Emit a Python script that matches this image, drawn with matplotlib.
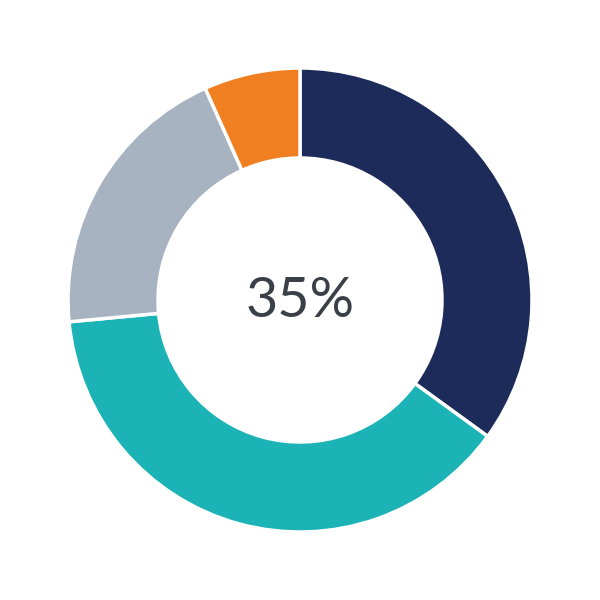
import matplotlib
matplotlib.use("Agg")
import matplotlib.pyplot as plt

labels = ["A", "B", "C", "D"]
values = [35, 38.5, 19.8, 6.7]
colors = ["#1c2b5a", "#1bb3b6", "#a8b3c1", "#f07f22"]
center_label = "35%"

fig = plt.figure(figsize=(6, 6), dpi=100)
ax = fig.add_axes([0, 0, 1, 1])
r_out = 232 / 300
ax.pie(values, colors=colors, startangle=90, counterclock=False, radius=r_out,
       wedgeprops=dict(width=r_out * 90 / 232, edgecolor="white", linewidth=2.5))
ax.text(0, -0.005, center_label, ha="center", va="center", fontsize=40,
        color="#3a3f48", family="Lato", fontweight="normal")
ax.set_xlim(-1, 1)
ax.set_ylim(-1, 1)
ax.set_aspect("equal")
ax.axis("off")
fig.savefig("out.png", dpi=100, facecolor="white")
